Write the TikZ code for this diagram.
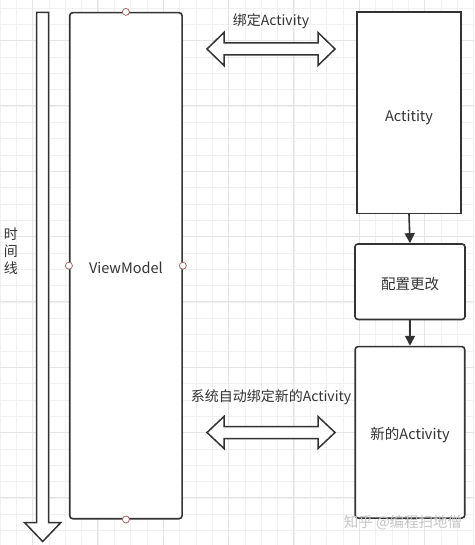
\documentclass[tikz,border=0pt]{standalone}
\usepackage{fontspec}
\setmainfont{Noto Sans CJK SC}
\usetikzlibrary{arrows.meta}
\definecolor{ink}{HTML}{333333}
\definecolor{gridminor}{HTML}{F0F0F0}
\definecolor{gridmajor}{HTML}{E5E5E5}
\definecolor{portc}{HTML}{A06A6A}
\newcommand{\lowtxt}[2]{\raisebox{-#1}[\height][\depth]{#2}}
\tikzset{
  boxsharp/.style={draw=ink, line width=1.6pt, fill=white, inner sep=0pt, text=ink, font=\fontsize{14.5}{17}\selectfont},
  boxround/.style={boxsharp, rounded corners=3pt},
  fatarrow/.style={draw=ink, line width=1.5pt, fill=white, line join=miter},
  flowarrow/.style={draw=ink, line width=1.6pt, -{Triangle[length=10pt,width=10pt]}},
  lbl/.style={text=ink, inner sep=0pt, font=\fontsize{14}{16}\selectfont},
  port/.style={circle, draw=portc, fill=white, line width=0.8pt, minimum size=7pt, inner sep=0pt},
}
\begin{document}
\begin{tikzpicture}[x=1pt,y=-1pt]
\useasboundingbox (0,0) rectangle (474,545);
\fill[white] (0,0) rectangle (474,545);
% grid
\foreach \i in {0,...,29} { \draw[gridminor, line width=0.8pt] (\i*16.33,0) -- (\i*16.33,545); }
\foreach \j in {0,...,32} { \draw[gridminor, line width=0.8pt] (0,8+\j*16.33) -- (474,8+\j*16.33); }
\foreach \i in {2,6,...,26} { \draw[gridmajor, line width=1pt] (\i*16.33,0) -- (\i*16.33,545); }
\foreach \j in {2,6,...,30} { \draw[gridmajor, line width=1pt] (0,8+\j*16.33) -- (474,8+\j*16.33); }

% timeline arrow
\draw[fatarrow] (36.7,12.3) -- (48.7,12.3) -- (48.7,522.7) -- (60.7,522.7) -- (42.7,541.5) -- (24.7,522.7) -- (36.7,522.7) -- cycle;
\node[lbl, align=center] (tl) at (11,251) {时\\[1pt]间\\[1pt]线};

% ViewModel
\node[boxround, minimum width=112.3pt, minimum height=506pt] (vm) at (125.9,265.7) {\lowtxt{2pt}{ViewModel}};
\node[port] (p1) at (vm.north) {};
\node[port] (p2) at (vm.south) {};
\node[port] (p3) at (vm.west) {};
\node[port] (p4) at (vm.east) {};

% right column
\node[boxsharp, minimum width=104pt, minimum height=201pt] (act) at (409,112.8) {\lowtxt{4.5pt}{Actitity}};
\node[boxround, minimum width=110pt, minimum height=75.5pt] (cfg) at (410,281.7) {\lowtxt{2pt}{配置更改}};
\node[boxround, minimum width=109.5pt, minimum height=171.5pt] (nact) at (410,432.3) {\lowtxt{3pt}{新的Activity}};
\draw[flowarrow] (act.south) -- (cfg.north);
\draw[flowarrow] (cfg.south) -- (nact.north);

% double arrows
\draw[fatarrow] (207,49) -- (224,32.5) -- (224,43) -- (318,43) -- (318,32.5) -- (335,49) -- (318,65.5) -- (318,55) -- (224,55) -- (224,65.5) -- cycle;
\node[lbl] (l1) at (271,21.5) {绑定Activity};
\draw[fatarrow] (207,432.5) -- (224,416.5) -- (224,426.5) -- (318,426.5) -- (318,416.5) -- (335,432.5) -- (318,448.5) -- (318,438.5) -- (224,438.5) -- (224,448.5) -- cycle;
\node[lbl] (l2) at (271,397.5) {系统自动绑定新的Activity};

% watermark
\node[inner sep=0pt, text=gray!45, font=\fontsize{14.5}{16}\selectfont] (wm) at (403,523) {知乎 @编程扫地僧};
\end{tikzpicture}
\end{document}
